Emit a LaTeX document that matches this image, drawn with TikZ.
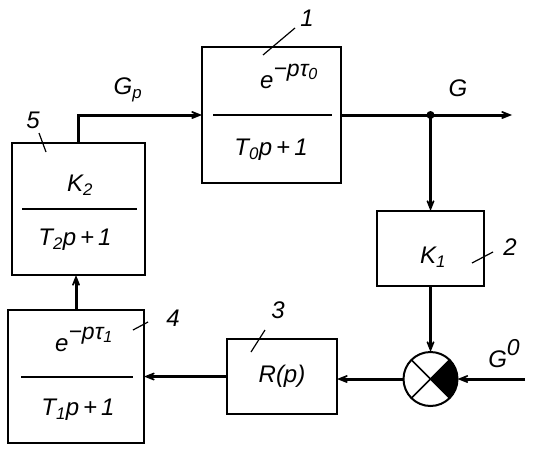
\documentclass[tikz,border=0pt]{standalone}
\usepackage{fontspec}
\setmainfont{Liberation Sans}
\usetikzlibrary{arrows.meta}
\newcommand{\expo}[1]{\raisebox{12pt}{\fontsize{23}{26}\selectfont #1}}

\begin{document}
\begin{tikzpicture}[x=1pt, y=-1pt,
  blk/.style={draw, line width=2pt, inner sep=0pt, outer sep=0pt},
  txt/.style={font=\fontsize{24}{28}\selectfont\itshape, inner sep=0pt},
  sig/.style={line width=3pt, -{Stealth[length=20pt, width=16pt, inset=14pt]}},
  lead/.style={line width=1.2pt}]
\useasboundingbox (0,0) rectangle (556,460);
\node[blk, minimum width=139pt, minimum height=136pt] (b1) at (271.5,115) {};
\node[blk, minimum width=107pt, minimum height=75pt] (b2) at (430.5,248.5) {};
\node[blk, minimum width=110pt, minimum height=75pt] (b3) at (282,376.5) {};
\node[blk, minimum width=136pt, minimum height=133pt] (b4) at (76,376.5) {};
\node[blk, minimum width=133pt, minimum height=132pt] (b5) at (78.5,209) {};
\node[circle, draw, line width=2pt, inner sep=0pt, outer sep=0pt, minimum size=54pt] (sum) at (430.5,379) {};
\fill (sum.center) -- (sum.45) arc[start angle=45, end angle=-45, radius=27pt] -- cycle;
\draw[line width=1.5pt] (sum.135) -- (sum.-45);
\draw[line width=1.5pt] (sum.45) -- (sum.-135);
\draw[line width=2pt] ([xshift=11pt]b1.west) -- ([xshift=-9pt]b1.east);
\draw[line width=2pt] ([xshift=10pt]b5.west) -- ([xshift=-8pt]b5.east);
\draw[line width=2pt] ([xshift=13pt]b4.west) -- ([xshift=-11pt]b4.east);
\node[txt] (t1n) at (289,76) {e\expo{−pτ\textsubscript{0}}};
\node[txt] (t1d) at (271,150) {T\textsubscript{0}p\,+\,1};
\node[txt] (t5n) at (80,185) {K\textsubscript{2}};
\node[txt] (t5d) at (75,240) {T\textsubscript{2}p\,+\,1};
\node[txt] (t4n) at (84,339) {e\expo{−pτ\textsubscript{1}}};
\node[txt] (t4d) at (78,410) {T\textsubscript{1}p\,+\,1};
\node[txt] (t2) at (433,257) {K\textsubscript{1}};
\node[txt] (t3) at (282,376) {R(p)};
\node[txt] (gp) at (128,90) {G\textsubscript{p}};
\node[txt] (g) at (458,88) {G};
\node[txt] (g0l) at (504,354) {G\expo{0}};
\node[txt] (l1) at (307,18) {1};
\node[txt] (l2) at (510,247) {2};
\node[txt] (l3) at (278,310) {3};
\node[txt] (l4) at (173,318) {4};
\node[txt] (l5) at (33,120) {5};
\draw[lead] (263,55) -- (295,28);
\draw[lead] (472,263) -- (493,252);
\draw[lead] (251,352) -- (265,330);
\draw[lead] (133,330) -- (148,322);
\draw[lead] (39,133) -- (46,152);
\coordinate (j) at (430.5,115);
\coordinate (gout) at (512,115);
\coordinate (g0) at (525,379);
\draw[sig] (b5.north) |- (b1.west);
\draw[sig] (b1.east) -- (gout);
\fill (j) circle[radius=4pt];
\draw[sig] (j) -- (b2.north);
\draw[sig] (b2.south) -- (sum.north);
\draw[sig] (g0) -- (sum.east);
\draw[sig] (sum.west) -- (sum.west -| b3.east);
\draw[sig] (b3.west) -- (b4.east);
\draw[sig] (b4.north) -- (b4.north |- b5.south);
\end{tikzpicture}
\end{document}
